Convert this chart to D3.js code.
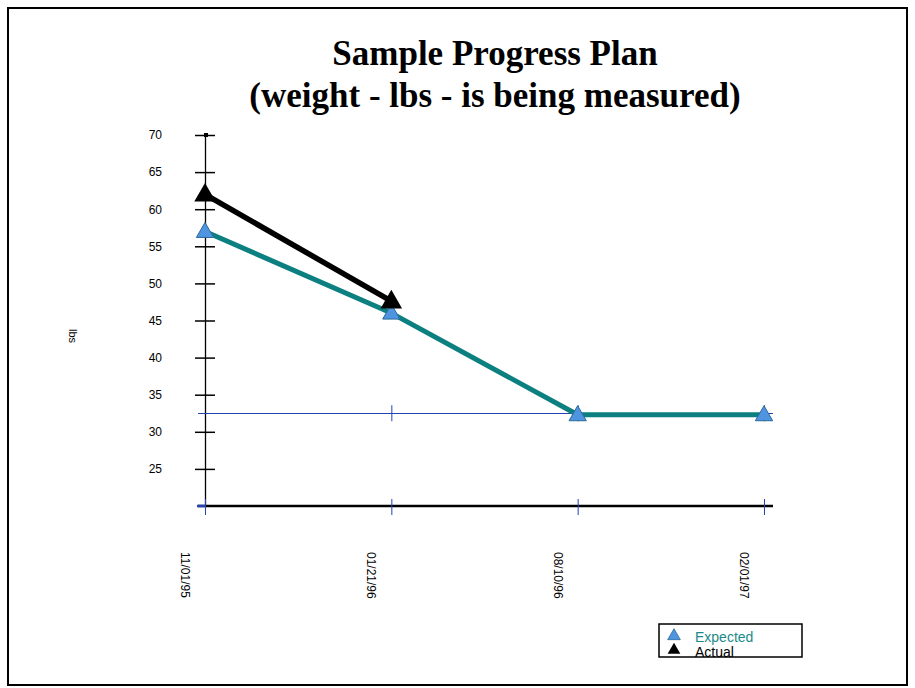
<!DOCTYPE html>
<html>
<head>
<meta charset="utf-8">
<script src="https://cdn.jsdelivr.net/npm/d3@7"></script>
<style>
  body { margin: 0; background: #fff; }
  svg { display: block; }
</style>
</head>
<body>
<svg id="chart"></svg>
<script>
// chart data
const dates = ['11/01/95', '01/21/96', '08/10/96', '02/01/97'];
const expected = [57, 46, 32.3, 32.3];
const actual = [62, 47.6];
const goal = 32.5;
const yTicks = [25, 30, 35, 40, 45, 50, 55, 60, 65, 70];

const width = 915, height = 688;
const svg = d3.select('#chart').attr('width', width).attr('height', height);

// outer frame
svg.append('rect')
  .attr('x', 8).attr('y', 8)
  .attr('width', 899).attr('height', 677)
  .attr('fill', 'none').attr('stroke', '#000').attr('stroke-width', 2);

// title
const title = svg.append('text')
  .attr('text-anchor', 'middle')
  .attr('font-family', '"Liberation Serif", "Times New Roman", serif')
  .attr('font-weight', 'bold')
  .attr('font-size', 35);
title.append('tspan').attr('x', 495).attr('y', 65).text('Sample Progress Plan');
title.append('tspan').attr('x', 495).attr('y', 107).text('(weight - lbs - is being measured)');

const x = d3.scalePoint().domain(dates).range([205, 764]);
const y = d3.scaleLinear().domain([20, 70]).range([506, 135]);

const font = '"Liberation Sans", Arial, sans-serif';
const navy = '#2442b4';

// y axis (ticks on both sides)
const yAxis = svg.append('g')
  .attr('transform', 'translate(205,0)')
  .call(d3.axisLeft(y).tickValues(yTicks).tickSizeInner(10).tickSizeOuter(0).tickPadding(33));
yAxis.select('.domain').attr('stroke', '#000').attr('stroke-width', 1.3);
yAxis.selectAll('.tick line').attr('stroke', '#000').attr('stroke-width', 1.5);
yAxis.selectAll('.tick text').attr('font-family', font).attr('font-size', 12).attr('fill', '#000');

const yAxisR = svg.append('g')
  .attr('transform', 'translate(205,0)')
  .call(d3.axisRight(y).tickValues(yTicks).tickSizeInner(10).tickSizeOuter(0).tickFormat(''));
yAxisR.select('.domain').remove();
yAxisR.selectAll('.tick line').attr('stroke', '#000').attr('stroke-width', 1.5);

// small square at top of axis
svg.append('rect')
  .attr('x', 204).attr('y', y(70) - 2)
  .attr('width', 4).attr('height', 4).attr('fill', '#000');

// goal line
svg.append('line')
  .attr('x1', 198).attr('x2', 773)
  .attr('y1', Math.round(y(goal)) + 0.5).attr('y2', Math.round(y(goal)) + 0.5)
  .attr('stroke', navy).attr('stroke-width', 1);
svg.append('g').selectAll('line')
  .data(dates.slice(1))
  .join('line')
  .attr('x1', d => x(d) + 0.5).attr('x2', d => x(d) + 0.5)
  .attr('y1', y(goal) - 8).attr('y2', y(goal) + 8)
  .attr('stroke', navy).attr('stroke-width', 1);

// x axis
svg.append('line')
  .attr('x1', 198).attr('x2', 773)
  .attr('y1', y(20)).attr('y2', y(20))
  .attr('stroke', '#000').attr('stroke-width', 2.5);
svg.append('line')
  .attr('x1', 197).attr('x2', 205)
  .attr('y1', y(20)).attr('y2', y(20))
  .attr('stroke', navy).attr('stroke-width', 2.5);
svg.append('g').selectAll('line')
  .data(dates)
  .join('line')
  .attr('x1', d => x(d) + 0.5).attr('x2', d => x(d) + 0.5)
  .attr('y1', y(20) - 7).attr('y2', y(20) + 9)
  .attr('stroke', navy).attr('stroke-width', 1);

// date labels
svg.append('g').selectAll('text')
  .data(dates)
  .join('text')
  .attr('transform', d => `translate(${x(d) - 20},552) rotate(90)`)
  .attr('dominant-baseline', 'central')
  .attr('font-family', font).attr('font-size', 12)
  .attr('fill', '#000')
  .text(d => d);

// y label
svg.append('text')
  .attr('transform', 'translate(73,336) rotate(90)')
  .attr('text-anchor', 'middle')
  .attr('dominant-baseline', 'central')
  .attr('font-family', font).attr('font-size', 11)
  .text('lbs');

const line = d3.line().x((d, i) => x(dates[i])).y(d => y(d));
const tri = d3.symbol().type(d3.symbolTriangle);

// expected series
svg.append('path')
  .datum(expected)
  .attr('d', line)
  .attr('fill', 'none').attr('stroke', '#0c8080').attr('stroke-width', 5)
  .attr('stroke-linejoin', 'round');

// actual series
svg.append('path')
  .datum(actual)
  .attr('d', line)
  .attr('fill', 'none').attr('stroke', '#000').attr('stroke-width', 5.5)
  .attr('stroke-linejoin', 'round');

svg.append('g').selectAll('path')
  .data(expected)
  .join('path')
  .attr('transform', (d, i) => `translate(${x(dates[i])},${y(d) + 1})`)
  .attr('d', tri.size(130))
  .attr('fill', '#4f94e0').attr('stroke', '#2b6a9a').attr('stroke-width', 1);

svg.append('g').selectAll('path')
  .data(actual)
  .join('path')
  .attr('transform', (d, i) => `translate(${x(dates[i])},${y(d) + 1})`)
  .attr('d', tri.size(200))
  .attr('fill', '#000');

// legend
const legend = svg.append('g');
svg.append('clipPath').attr('id', 'legclip')
  .append('rect').attr('x', 659).attr('y', 624).attr('width', 143).attr('height', 33);
const legItems = legend.append('g').attr('clip-path', 'url(#legclip)');
legItems.append('path')
  .attr('transform', 'translate(674,636)')
  .attr('d', d3.symbol().type(d3.symbolTriangle).size(70)())
  .attr('fill', '#4f94e0').attr('stroke', '#2b6a9a').attr('stroke-width', 0.8);
legItems.append('text')
  .attr('x', 695).attr('y', 642)
  .attr('font-family', font).attr('font-size', 14)
  .attr('fill', '#1a8a8a')
  .text('Expected');
legItems.append('path')
  .attr('transform', 'translate(674,650)')
  .attr('d', d3.symbol().type(d3.symbolTriangle).size(70)())
  .attr('fill', '#000');
legItems.append('text')
  .attr('x', 695).attr('y', 657)
  .attr('font-family', font).attr('font-size', 14)
  .attr('fill', '#000')
  .text('Actual');
legend.append('rect')
  .attr('x', 659).attr('y', 624)
  .attr('width', 143).attr('height', 33)
  .attr('fill', 'none').attr('stroke', '#000').attr('stroke-width', 1.5);
</script>
</body>
</html>
